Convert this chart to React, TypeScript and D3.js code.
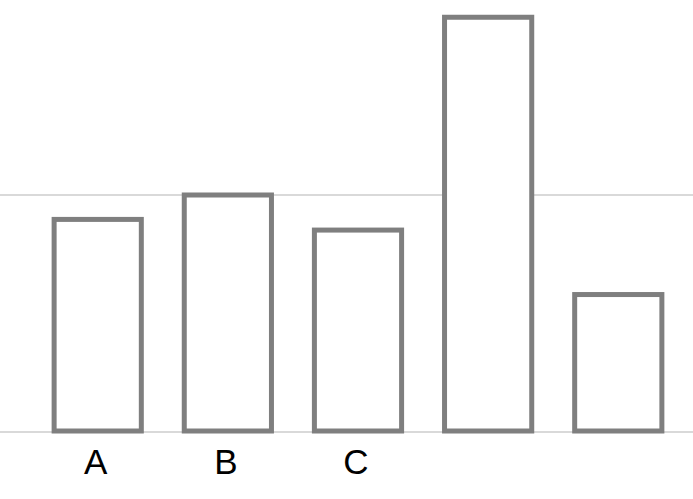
import React, { useEffect, useRef } from "react";
import * as d3 from "d3";

const categories = ["A", "B", "C", "", " "];
const values = [8.97, 10, 8.52, 17.5, 5.8];
const gridValues = [0, 10];

const W = 693;
const H = 499;

const App = () => {
  const ref = useRef<SVGGElement>(null);

  useEffect(() => {
    if (!ref.current) return;
    ref.current.innerHTML = "";
    const g = d3.select(ref.current);

    const x = d3.scaleBand<string>()
      .domain(categories)
      .range([32, 684])
      .paddingInner(0.33)
      .paddingOuter(0.17);

    const y = d3.scaleLinear().domain([0, 10]).range([432, 195]);

    // gridlines
    g.selectAll(".grid")
      .data(gridValues)
      .enter().append("line")
      .attr("x1", 0)
      .attr("x2", W)
      .attr("y1", (d) => y(d))
      .attr("y2", (d) => y(d))
      .attr("stroke", "#d9d9d9")
      .attr("stroke-width", 2);

    const data = categories.map((c, i) => ({ c, v: values[i] }));

    g.selectAll(".bar")
      .data(data)
      .enter().append("rect")
      .attr("x", (d) => x(d.c)!)
      .attr("y", (d) => y(d.v))
      .attr("width", x.bandwidth())
      .attr("height", (d) => y(0) - 1 - y(d.v))
      .attr("fill", "#ffffff")
      .attr("stroke", "#7f7f7f")
      .attr("stroke-width", 5);

    g.selectAll(".lbl")
      .data(data)
      .enter().append("text")
      .attr("x", (d) => x(d.c)! + x.bandwidth() / 2 - 2)
      .attr("y", 474)
      .attr("text-anchor", "middle")
      .attr("font-family", "Liberation Sans, Arial, sans-serif")
      .attr("font-size", 35)
      .attr("fill", "#000")
      .text((d) => d.c.trim());
  }, []);

  return (
    <svg width={W} height={H} style={{ position: "absolute", left: 0, top: 0, background: "#fff" }}>
      <g ref={ref} />
    </svg>
  );
};

export default App;
